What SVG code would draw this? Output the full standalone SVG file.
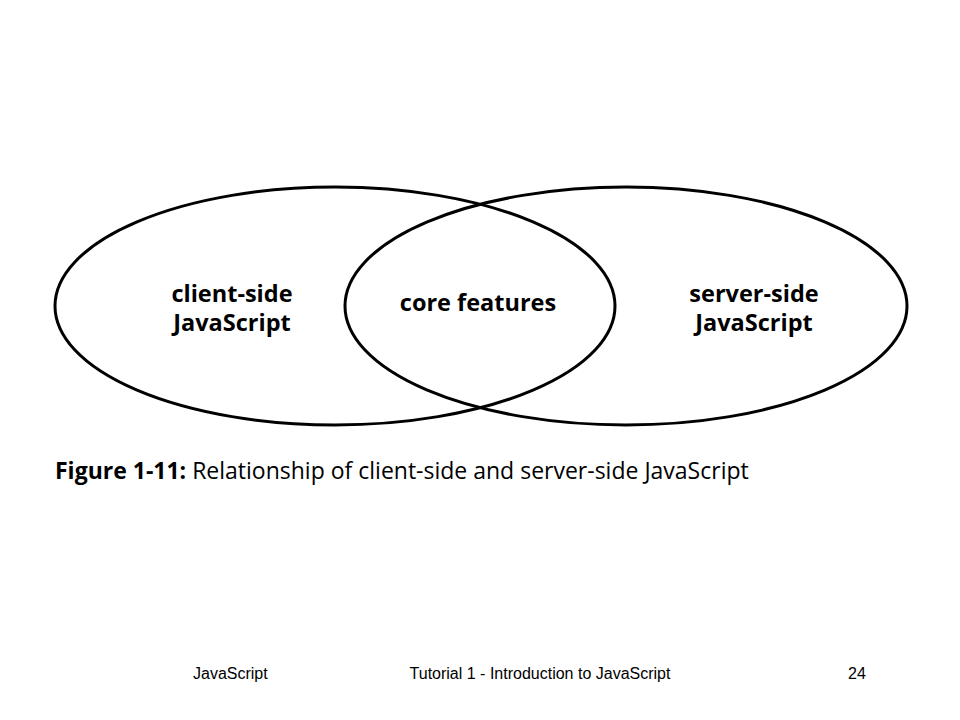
<svg xmlns="http://www.w3.org/2000/svg" width="960" height="720" viewBox="0 0 960 720">
<style>
.e{fill:none;stroke:#000;stroke-width:3}
.l{font-family:"Open Sans","DejaVu Sans",sans-serif;font-weight:bold;font-size:23.5px;text-anchor:middle}
.c{font-family:"Open Sans","DejaVu Sans",sans-serif;font-size:23px}
.f{font-family:"Liberation Sans",Arial,sans-serif;font-size:16px}
</style>
<rect width="960" height="720" fill="#fff"/>
<g id="client"><ellipse class="e" cx="335" cy="306" rx="280" ry="119"/>
<text class="l" x="232" y="302">client-side</text><text class="l" x="232" y="331">JavaScript</text></g>
<g id="server"><ellipse class="e" cx="626" cy="306" rx="281" ry="119"/>
<text class="l" x="754" y="302">server-side</text><text class="l" x="754" y="331">JavaScript</text></g>
<g id="core"><text class="l" x="478" y="311">core features</text></g>
<g id="connectors"/>
<text class="c" x="55" y="479"><tspan font-weight="bold">Figure 1-11:</tspan> Relationship of client-side and server-side JavaScript</text>
<text class="f" x="193" y="679">JavaScript</text>
<text class="f" x="540" y="679" text-anchor="middle">Tutorial 1 - Introduction to JavaScript</text>
<text class="f" x="848" y="679">24</text>
</svg>
